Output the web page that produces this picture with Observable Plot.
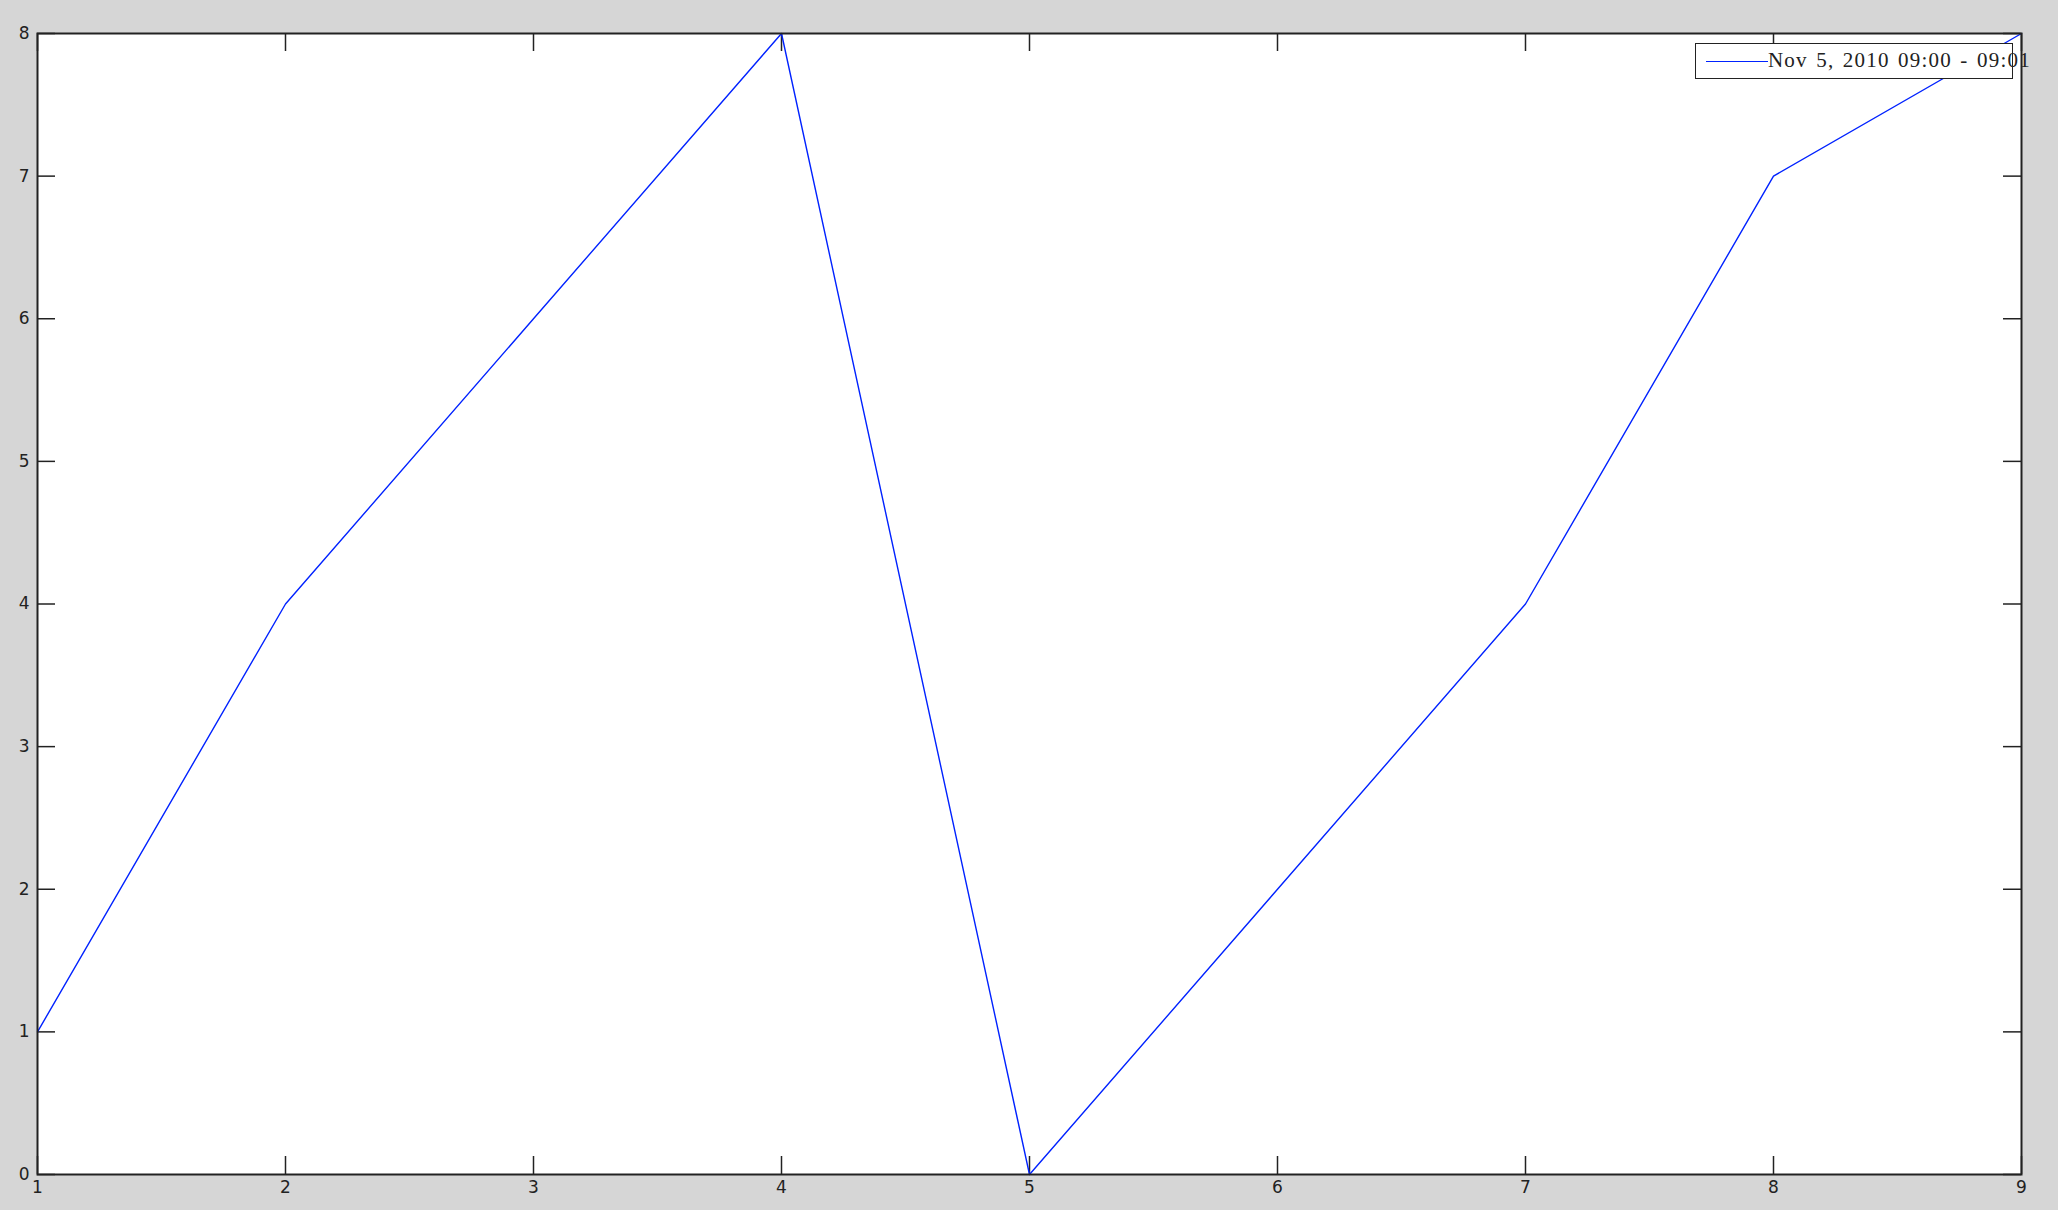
<!DOCTYPE html>
<html>
<head>
<meta charset="utf-8">
<script src="https://cdn.jsdelivr.net/npm/d3@7"></script>
<script src="https://cdn.jsdelivr.net/npm/@observablehq/plot@0.6"></script>
<style>
  html, body { margin: 0; padding: 0; background: #d6d6d6; }
  #wrap { position: relative; width: 2058px; height: 1210px; }
  #legend {
    position: absolute; left: 1695px; top: 43px; width: 316px; height: 34px;
    background: #fff; border: 1.5px solid #222; box-sizing: content-box;
    font-family: "Liberation Serif", "DejaVu Serif", serif; font-size: 21px; color: #222;
    white-space: nowrap; overflow: visible;
  }
  #legend .sw { position: absolute; left: 10px; top: 17px; width: 62px; border-top: 1.5px solid #0022ff; }
  #legend .tx { position: absolute; left: 72px; top: 4px; letter-spacing: 1.2px; word-spacing: 2px; }
</style>
</head>
<body>
<div id="wrap">
  <div id="chart"></div>
  <div id="legend"><span class="sw"></span><span class="tx">Nov  5, 2010 09:00 - 09:01</span></div>
</div>
<script>
const xValues = [1, 2, 3, 4, 5, 6, 7, 8, 9];
const yValues = [1, 4, 6, 8, 0, 2, 4, 7, 8];
const xTicks = [1, 2, 3, 4, 5, 6, 7, 8, 9];
const yTicks = [0, 1, 2, 3, 4, 5, 6, 7, 8];
const seriesName = "Nov 5, 2010 09:00 - 09:01";

const data = xValues.map((x, i) => ({x, y: yValues[i], series: seriesName}));

const W = 2058, H = 1210;
const mL = 37, mR = 37, mT = 33, mB = 36;
const frameH = H - mT - mB, frameW = W - mL - mR;
const tickLen = 18;

const chart = Plot.plot({
  width: W,
  height: H,
  marginLeft: mL, marginRight: mR, marginTop: mT, marginBottom: mB,
  style: {background: "transparent", fontFamily: "DejaVu Sans, sans-serif", fontSize: "17px", color: "#222"},
  x: {domain: [1, 9], ticks: xTicks, tickFormat: d3.format("d")},
  y: {domain: [0, 8], ticks: yTicks, tickFormat: d3.format("d")},
  marks: [
    Plot.frame({fill: "white", stroke: "none"}),
    Plot.ruleX(xTicks, {stroke: "#222", strokeWidth: 1.5, insetTop: frameH - tickLen}),
    Plot.ruleX(xTicks, {stroke: "#222", strokeWidth: 1.5, insetBottom: frameH - tickLen}),
    Plot.ruleY(yTicks, {stroke: "#222", strokeWidth: 1.5, insetRight: frameW - tickLen}),
    Plot.ruleY(yTicks, {stroke: "#222", strokeWidth: 1.5, insetLeft: frameW - tickLen}),
    Plot.line(data, {x: "x", y: "y", stroke: "#0022ff", strokeWidth: 1.4}),
    Plot.frame({stroke: "#222", strokeWidth: 2}),
    Plot.axisX({ticks: xTicks, tickSize: 0, tickPadding: 6, fontSize: 17, label: null, tickFormat: d3.format("d")}),
    Plot.axisY({ticks: yTicks, tickSize: 0, tickPadding: 8, fontSize: 17, label: null, tickFormat: d3.format("d")})
  ]
});
document.getElementById("chart").appendChild(chart);
</script>
</body>
</html>
